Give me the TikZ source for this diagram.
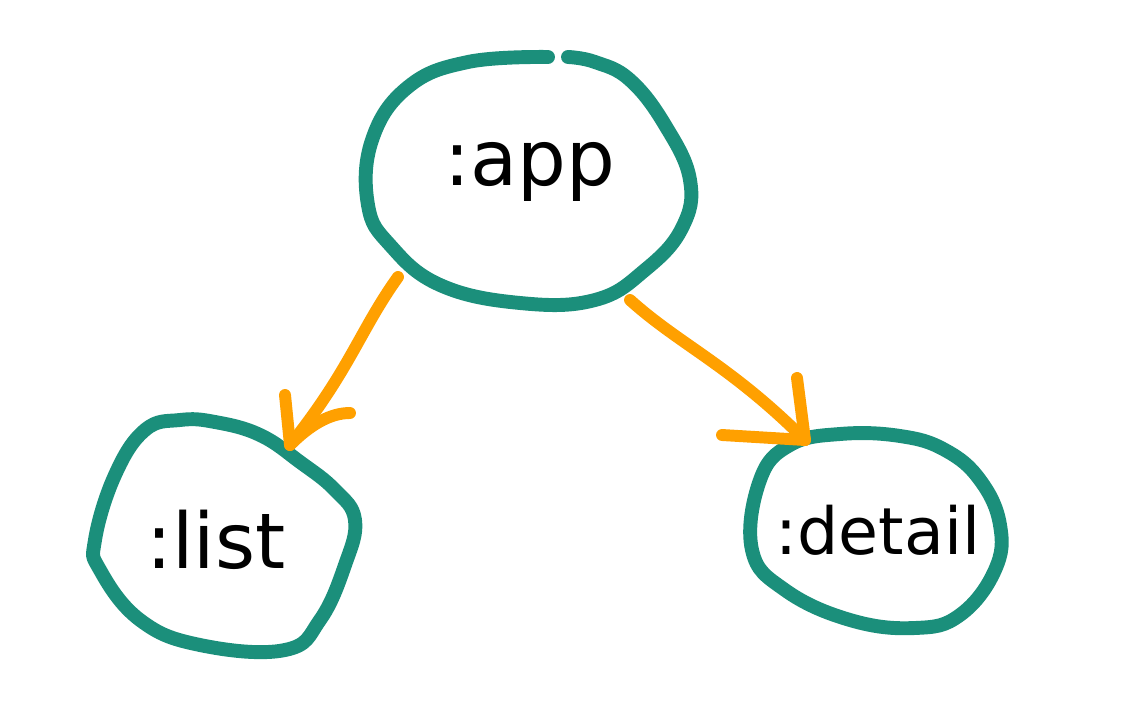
\documentclass[tikz,border=0pt]{standalone}
\usepackage{fontspec}
\setmainfont{DejaVu Sans}
\definecolor{teal1}{HTML}{1B8F7B}
\definecolor{orng}{HTML}{FFA000}
\begin{document}
\begin{tikzpicture}[x=0.0265cm,y=-0.0265cm,
  blob/.style={draw=teal1,line width=10.5pt,line cap=round,line join=round},
  arr/.style={draw=orng,line width=9pt,line cap=round,line join=round},
  lbl/.style={inner sep=0pt,text=black}]
\useasboundingbox (0,0) rectangle (1122,708);
\draw[blob] plot[smooth,tension=0.7] coordinates {(568,57) (595,62) (630,80) (665,125) (690,180) (682,228) (645,270) (595,300) (520,303) (440,285) (390,245) (368,205) (372,140) (408,87) (468,62) (548,57)};
\draw[blob] plot[smooth cycle,tension=0.7] coordinates {(180,420) (145,430) (115,475) (95,540) (100,570) (140,620) (200,645) (285,650) (320,620) (345,565) (355,520) (335,490) (300,462) (260,435) (215,422)};
\draw[blob] plot[smooth cycle,tension=0.7] coordinates {(840,434) (790,445) (760,480) (752,550) (785,590) (850,620) (915,628) (960,615) (995,570) (1000,525) (980,480) (945,450) (900,436)};
\node[lbl,font=\fontsize{58}{60}\selectfont] (app) at (530,172) {:app};
\node[lbl,font=\fontsize{58}{60}\selectfont] (list) at (216,540) {:list};
\node[lbl,font=\fontsize{49}{50}\selectfont] (detail) at (878,530) {:detail};
\coordinate (a1) at (398,277); \coordinate (l1) at (290,445);
\coordinate (a2) at (630,300); \coordinate (d1) at (805,440);
\draw[arr] (a1) .. controls (360,330) and (350,370) .. (l1);
\draw[arr] (285,395) -- (l1) .. controls (310,425) and (330,413) .. (350,413);
\draw[arr] (a2) .. controls (680,345) and (730,365) .. (d1);
\draw[arr] (797,378) -- (d1) -- (722,435);
\end{tikzpicture}
\end{document}
